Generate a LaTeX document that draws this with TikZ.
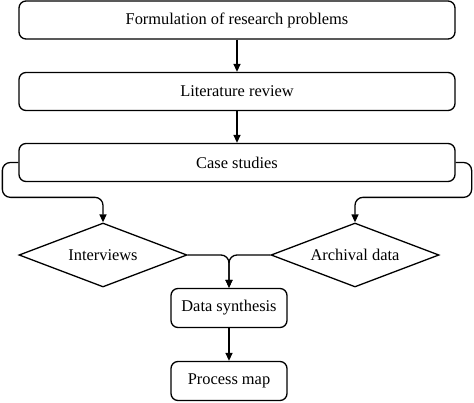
\documentclass[tikz,border=0pt]{standalone}
\usepackage{fontspec}
\setmainfont{Liberation Serif}
\usetikzlibrary{shapes.geometric,arrows.meta,calc}
\begin{document}
\begin{tikzpicture}[x=1pt,y=-1pt,
  font=\fontsize{16.4}{19}\selectfont,
  line width=1.3pt,
  stepbox/.style={draw, rounded corners=7pt, inner sep=0pt},
  widebox/.style={stepbox, minimum width=436pt, minimum height=38pt},
  smallbox/.style={stepbox, minimum width=116pt, minimum height=39pt},
  dia/.style={draw, diamond, aspect=2.625, inner sep=0pt, minimum width=168pt, minimum height=64pt},
  arr/.style={-{Triangle[length=8pt,width=7pt]}}]
\useasboundingbox (0,0) rectangle (474,402);
\node[widebox] (f) at (237,20) {Formulation of research problems};
\node[widebox] (l) at (237,91.5) {Literature review};
\node[widebox] (c) at (237,162.5) {Case studies};
\node[dia] (i) at (103,255) {Interviews};
\node[dia] (a) at (355,255) {Archival data};
\node[smallbox] (d) at (229,308) {Data synthesis};
\node[smallbox] (p) at (229,381) {Process map};
\draw[arr] (f) -- (l);
\draw[arr] (l) -- (c);
\draw[arr, rounded corners=8pt] (c.west) -- ++(-16,0) |- ([yshift=25pt]i.north) -- (i.north);
\draw[arr, rounded corners=8pt] (c.east) -- ++(16,0) |- ([yshift=25pt]a.north) -- (a.north);
\draw[arr, rounded corners=8pt] (i.east) -| (d.north);
\draw[arr, rounded corners=8pt] (a.west) -| (d.north);
\draw[arr] (d) -- (p);
\end{tikzpicture}
\end{document}
